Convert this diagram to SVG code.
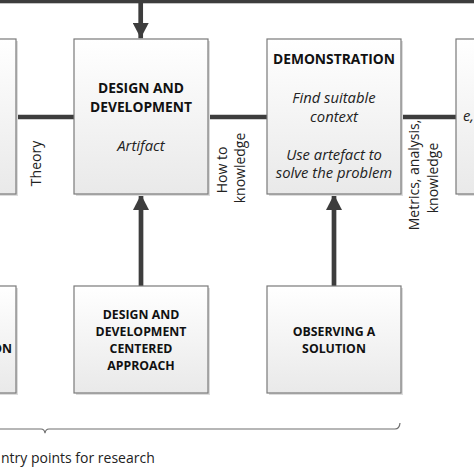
<svg xmlns="http://www.w3.org/2000/svg" width="474" height="474" viewBox="0 0 474 474">
<defs>
<linearGradient id="boxg" x1="0" y1="0" x2="0" y2="1">
<stop offset="0" stop-color="#ffffff"/>
<stop offset="1" stop-color="#e9e9e9"/>
</linearGradient>
<marker id="ah" markerUnits="userSpaceOnUse" markerWidth="17" markerHeight="16" refX="16" refY="8.3" orient="auto" viewBox="0 0 16 16.6">
<path d="M0,0 L16,8.3 L0,16.6 Z" fill="#3d3d3d"/>
</marker>
</defs>
<style>
.box{fill:url(#boxg);stroke:#7a7a7a;stroke-width:1.2}
.shadow{fill:#dcdcdc}
.line{stroke:#3d3d3d;stroke-width:4.7;fill:none}
.ttl{font-family:"Open Sans",sans-serif;font-weight:bold;font-size:13.8px;fill:#111;text-anchor:middle}
.ttl2{font-family:"Open Sans",sans-serif;font-weight:bold;font-size:12.3px;fill:#111;text-anchor:middle}
.it{font-family:"Open Sans",sans-serif;font-style:italic;font-size:14.8px;fill:#222;text-anchor:middle}
.lbl{font-family:"Open Sans",sans-serif;font-size:14px;fill:#222;text-anchor:middle}
.ft{font-family:"Open Sans",sans-serif;font-size:14px;fill:#222}
</style>
<g id="connectors">
<rect x="0" y="0" width="474" height="3.3" fill="#3d3d3d"/>
<line class="line" x1="140.7" y1="3" x2="140.7" y2="38.3" marker-end="url(#ah)"/>
<line class="line" x1="16" y1="117" x2="74" y2="117"/>
<line class="line" x1="208" y1="117" x2="267" y2="117"/>
<line class="line" x1="401" y1="117" x2="456" y2="117"/>
<line class="line" x1="141" y1="286" x2="141" y2="194.5" marker-end="url(#ah)"/>
<line class="line" x1="334" y1="286" x2="334" y2="194.5" marker-end="url(#ah)"/>
</g>
<g id="labels">
<text class="lbl" transform="translate(41,163.5) rotate(-90)">Theory</text>
<text class="lbl" transform="translate(227,170) rotate(-90)">How to</text>
<text class="lbl" transform="translate(245,168) rotate(-90)">knowledge</text>
<text class="lbl" transform="translate(419,175) rotate(-90)">Metrics, analysis,</text>
<text class="lbl" transform="translate(438,178) rotate(-90)">knowledge</text>
</g>
<g id="node-left-top">
<rect class="shadow" x="-118" y="41" width="136" height="155"/>
<rect class="box" x="-120" y="39" width="136" height="155"/>
</g>
<g id="node-design">
<rect class="shadow" x="76" y="41" width="134" height="155"/>
<rect class="box" x="74" y="39" width="134" height="155"/>
<text class="ttl" x="141" y="93.3">DESIGN AND</text>
<text class="ttl" x="141" y="112.3">DEVELOPMENT</text>
<text class="it" x="141" y="150.5">Artifact</text>
</g>
<g id="node-demonstration">
<rect class="shadow" x="269" y="41" width="134" height="155"/>
<rect class="box" x="267" y="39" width="134" height="155"/>
<text class="ttl" x="334" y="64.3">DEMONSTRATION</text>
<text class="it" x="334" y="103">Find suitable</text>
<text class="it" x="334" y="121.5">context</text>
<text class="it" x="334" y="160">Use artefact to</text>
<text class="it" x="334" y="178.3">solve the problem</text>
</g>
<g id="node-right-top">
<rect class="shadow" x="458" y="41" width="140" height="155"/>
<rect class="box" x="456" y="39" width="140" height="155"/>
<text class="it" x="463" y="121" style="text-anchor:start">e,</text>
</g>
<g id="node-left-bottom">
<rect class="shadow" x="-118" y="288" width="136" height="107"/>
<rect class="box" x="-120" y="286" width="136" height="107"/>
<text class="ttl2" x="12" y="353.4" style="text-anchor:end">ON</text>
</g>
<g id="node-ddc">
<rect class="shadow" x="76" y="288" width="134" height="107"/>
<rect class="box" x="74" y="286" width="134" height="107"/>
<text class="ttl2" x="141" y="319">DESIGN AND</text>
<text class="ttl2" x="141" y="336">DEVELOPMENT</text>
<text class="ttl2" x="141" y="353">CENTERED</text>
<text class="ttl2" x="141" y="370">APPROACH</text>
</g>
<g id="node-observing">
<rect class="shadow" x="269" y="288" width="134" height="107"/>
<rect class="box" x="267" y="286" width="134" height="107"/>
<text class="ttl2" x="334" y="336">OBSERVING A</text>
<text class="ttl2" x="334" y="353">SOLUTION</text>
</g>
<g id="brace">
<path d="M0,429 H41 Q44.5,429 45,433.3 Q45.5,429 49,429 H395 Q399.5,429 400,423" fill="none" stroke="#6e6e6e" stroke-width="1.2"/>
<text class="ft" x="1" y="462.7">ntry points for research</text>
</g>
</svg>
